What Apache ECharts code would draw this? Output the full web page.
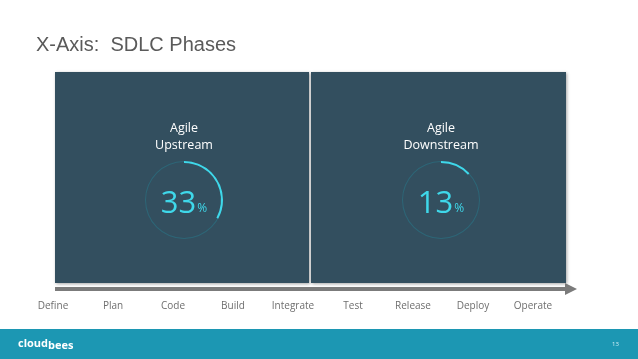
<!DOCTYPE html>
<html><head><meta charset="utf-8">
<script src="https://cdn.jsdelivr.net/npm/echarts@6/dist/echarts.min.js"></script>
<style>html,body{margin:0;padding:0;background:#fff}#c{width:638px;height:359px}</style>
</head><body><div id="c"></div>
<script>
const phases = ['Define','Plan','Code','Build','Integrate','Test','Release','Deploy','Operate'];
const gaugeTitles = ['Agile\nUpstream','Agile\nDownstream'];
const gaugeValues = [33, 13];

const chart = echarts.init(document.getElementById('c'));
const panelColor = '#334f5f';
function gauge(i, cx){
  return {
    type:'gauge', center:[cx,200], radius:39, startAngle:90, endAngle:-270,
    min:0, max:100, z:10,
    axisLine:{lineStyle:{width:1, color:[[1,'#2d6677']]}},
    progress:{show:true, width:2, itemStyle:{color:'#3fd8ea'}},
    pointer:{show:false}, axisTick:{show:false}, splitLine:{show:false}, axisLabel:{show:false}, anchor:{show:false},
    title:{show:true, offsetCenter:[0,-63], color:'#ffffff', fontSize:12.5, lineHeight:17, fontFamily:'Open Sans'},
    detail:{show:true, offsetCenter:[0,4], valueAnimation:false, fontWeight:'normal',
      formatter: v => '{a|'+v+'}{b|%}',
      rich:{a:{fontSize:31, fontWeight:'normal', color:'#3fd8ea', fontFamily:'Open Sans', padding:[0,1,0,0]},
            b:{fontSize:12, fontWeight:'normal', color:'#3fd8ea', fontFamily:'Open Sans', padding:[10,0,0,0]}}},
    data:[{value:gaugeValues[i], name:gaugeTitles[i]}]
  };
}
chart.setOption({
  animation:false,
  grid:[{left:23, right:75, top:72, height:226}],
  xAxis:[{type:'category', data:phases, gridIndex:0, boundaryGap:true,
    axisLine:{show:false}, axisTick:{show:false},
    axisLabel:{color:'#6e6e6e', fontSize:10, fontFamily:'Open Sans', margin:3, interval:0}}],
  yAxis:[{type:'value', gridIndex:0, show:false}],
  graphic:[
    {type:'rect', shape:{x:0,y:329,width:638,height:30}, style:{fill:'#1c97b3'}},
    {type:'text', left:36, top:35, style:{text:'X-Axis:  SDLC Phases', fill:'#5a5a5a', font:'20px "Liberation Sans", Arial'}},
    {type:'rect', shape:{x:55,y:72,width:254,height:211}, style:{fill:panelColor, shadowBlur:3, shadowColor:'rgba(0,0,0,0.35)', shadowOffsetX:1, shadowOffsetY:1}},
    {type:'rect', shape:{x:311,y:72,width:255,height:211}, style:{fill:panelColor, shadowBlur:3, shadowColor:'rgba(0,0,0,0.35)', shadowOffsetX:1, shadowOffsetY:1}},
    {type:'rect', shape:{x:55,y:287,width:511,height:4}, style:{fill:'#7b7b7b'}},
    {type:'polygon', shape:{points:[[565,283],[577,289],[565,295]]}, style:{fill:'#7b7b7b'}},
    {type:'text', left:18, top:338, style:{text:'{c|cloud}{d|bees}', rich:{c:{fill:'#fff', font:'bold 11px "Open Sans"'}, d:{fill:'#fff', font:'bold 11px "Open Sans"', padding:[5,0,0,0]}}}},
    {type:'text', left:612, top:341, style:{text:'13', fill:'#cfeef5', font:'6px "Open Sans"'}}
  ],
  series:[gauge(0,184), gauge(1,441)]
});
</script></body></html>
